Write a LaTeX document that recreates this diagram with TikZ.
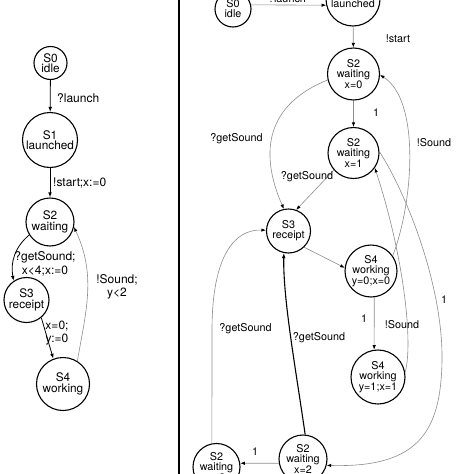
\documentclass[tikz,border=0pt]{standalone}
\usepackage{fontspec}
\setmainfont{TeX Gyre Heros}
\usetikzlibrary{arrows.meta}
\begin{document}
\begin{tikzpicture}[x=1pt,y=-1pt,
  st/.style={circle,draw=black,line width=1.1pt,inner sep=0pt,align=center},
  lft/.style={st,font=\fontsize{11.8}{10.5}\selectfont},
  rgt/.style={st,font=\fontsize{10.8}{10}\selectfont},
  llbl/.style={font=\fontsize{12}{13.5}\selectfont,inner sep=0pt,align=center},
  rlbl/.style={font=\fontsize{10.8}{12}\selectfont,inner sep=0pt,align=center},
  blk/.style={draw=black,line width=0.8pt,-{Latex[length=5pt,width=3.6pt]}},
  gry/.style={draw=black!45,line width=0.6pt,-{Latex[length=4.5pt,width=3.4pt,color=black]}},
  thk/.style={draw=black,line width=1.1pt,-{Latex[length=5pt,width=3.8pt]}}]
\useasboundingbox (0,0) rectangle (474,474);
\clip (0,0) rectangle (474,474);
\draw[line width=1.5pt] (179,0) -- (179,474);
% left panel
\node[lft,minimum size=33] (L0) at (50.5,63) {S0\\idle};
\node[lft,minimum size=55] (L1) at (50,140) {S1\\launched};
\node[lft,minimum size=48] (L2) at (50,222) {S2\\waiting};
\node[lft,minimum size=45] (L3) at (26.5,300) {S3\\receipt};
\node[lft,minimum size=53] (L4) at (63,384) {S4\\working};
\draw[blk] (L0) -- (L1);
\draw[blk] (L1) -- (L2);
\draw[blk] (L2.212) to[out=220,in=100] (L3.124);
\draw[blk] (L3.-50) -- (L4.111);
\draw[gry] (L4.58) to[out=80,in=-65] (L2.-12);
\node[llbl,anchor=west] (la) at (57,98) {?launch};
\node[llbl,anchor=west] (lb) at (53,183) {!start;x:=0};
\node[llbl] (lc) at (45,264) {?getSound;\\x<4;x:=0};
\node[llbl] (ld) at (57,333) {x=0;\\y:=0};
\node[llbl] (le) at (117,287) {!Sound;\\y<2};
% right panel
\node[rgt,minimum size=36] (R0) at (233,9) {S0\\idle};
\node[rgt,minimum size=54] (R1) at (353,-1) {S1\\launched};
\node[rgt,minimum size=52] (R2a) at (353.5,74) {S2\\waiting\\x=0};
\node[rgt,minimum size=51] (R2b) at (353.5,153) {S2\\waiting\\x=1};
\node[rgt,minimum size=44] (R3) at (288.5,231) {S3\\receipt};
\node[rgt,minimum size=52] (R4a) at (371,271) {S4\\working\\y=0;x=0};
\node[rgt,minimum size=54] (R4b) at (378,377) {S4\\working\\y=1;x=1};
\node[rgt,minimum size=48] (R2c) at (303,459) {S2\\waiting\\x=2};
\node[rgt,minimum size=47] (R2d) at (216.5,467) {S2\\waiting\\x=3};
\draw[gry] (R0.13) -- (R1.193);
\draw[gry] (R1) -- (R2a);
\draw[gry] (R2a) -- (R2b);
\draw[gry] (R2a.193) .. controls (268,104) and (258,150) .. (R3.102);
\draw[gry] (R2b.221) -- (R3.70);
\draw[gry] (R3.-46) -- (R4a.173);
\draw[gry] (R4a.35) .. controls (414,200) and (420,100) .. (R2a.-2);
\draw[gry] (R4a.-83) -- (R4b.98);
\draw[gry] (R4b.10) .. controls (413,345) and (405,260) .. (R2b.-35);
\draw[gry] (R2b.3) .. controls (410,200) and (443,290) .. (442,360) .. controls (441,430) and (420,468) .. (R2c.-15);
\draw[gry] (R2c.190) -- (R2d.9);
\draw[thk] (R2c.85) .. controls (296,370) and (283,300) .. (R3.258);
\draw[gry] (R2d.101) -- (212,330) .. controls (212,255) and (235,229) .. (R3.178);
\node[rlbl] (ra) at (287,-1) {?launch};
\node[rlbl] (rb) at (398,39) {!start};
\node[rlbl] (rc) at (376,113) {1};
\node[rlbl] (rd) at (236.5,139) {?getSound};
\node[rlbl] (re) at (434,143) {!Sound};
\node[rlbl] (rf) at (307,177) {?getSound};
\node[rlbl] (rg) at (364,319) {1};
\node[rlbl] (rh) at (402,325) {!Sound};
\node[rlbl] (ri) at (444,300) {1};
\node[rlbl] (rj) at (245.5,329) {?getSound};
\node[rlbl] (rk) at (319,338) {?getSound};
\node[rlbl] (rl) at (255,452) {1};
\end{tikzpicture}
\end{document}
